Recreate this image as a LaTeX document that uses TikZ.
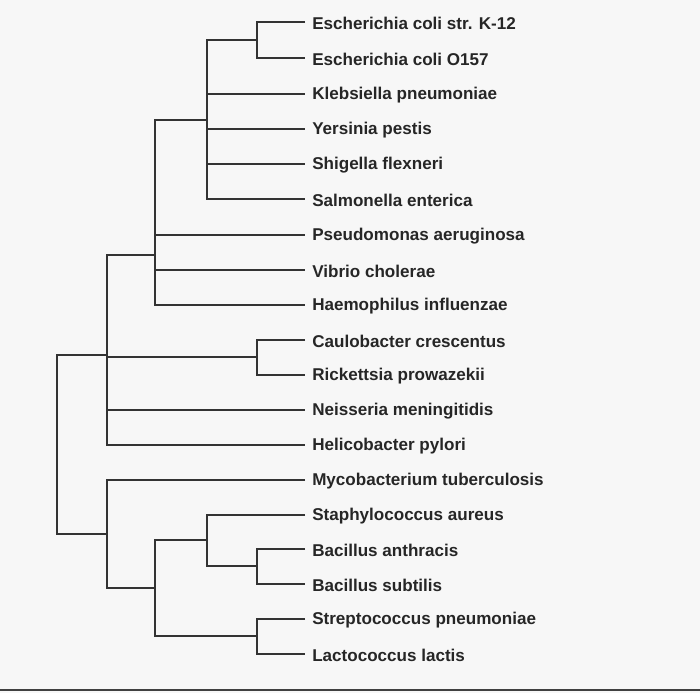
\documentclass[tikz,border=0pt]{standalone}
\usepackage{fontspec}
\setmainfont{Liberation Sans}
\begin{document}
\begin{tikzpicture}[x=0.75pt,y=-0.75pt,
  br/.style={draw=black!80,line width=1.1pt},
  lf/.style={anchor=west,inner sep=0pt,font=\bfseries\fontsize{12.8}{14}\selectfont,text=black!85}]
\fill[black!3] (0,0) rectangle (700,693);
\useasboundingbox (0,0) rectangle (700,693);
\draw[black!75,line width=1.5pt] (0,690) -- (700,690);
\foreach \n/\y/\t in {1/22/Escherichia coli str. K-12,2/58/Escherichia coli O157,3/94/Klebsiella pneumoniae,4/129/Yersinia pestis,5/164/Shigella flexneri,6/199/Salmonella enterica,7/235/Pseudomonas aeruginosa,8/270/Vibrio cholerae,9/305/Haemophilus influenzae,10/340/Caulobacter crescentus,11/375/Rickettsia prowazekii,12/410/Neisseria meningitidis,13/445/Helicobacter pylori,14/480/Mycobacterium tuberculosis,15/515/Staphylococcus aureus,16/549/Bacillus anthracis,17/584/Bacillus subtilis,18/619/Streptococcus pneumoniae,19/654/Lactococcus lactis}
  {\node[lf] (L\n) at (312,\y+1) {\t}; \coordinate (E\n) at (305,\y);}
% E. coli pair
\draw[br] (E1) -- (257,22) -- (257,58) -- (E2);
\draw[br] (257,40) -- (207,40) -- (207,199) -- (E6);
\draw[br] (207,94) -- (E3);
\draw[br] (207,129) -- (E4);
\draw[br] (207,164) -- (E5);
\draw[br] (207,120) -- (155,120) -- (155,305) -- (E9);
\draw[br] (155,235) -- (E7);
\draw[br] (155,270) -- (E8);
\draw[br] (E10) -- (257,340) -- (257,375) -- (E11);
\draw[br] (155,255) -- (107,255) -- (107,445) -- (E13);
\draw[br] (257,357) -- (107,357);
\draw[br] (107,410) -- (E12);
\draw[br] (107,355) -- (57,355) -- (57,534) -- (107,534);
\draw[br] (E16) -- (257,549) -- (257,584) -- (E17);
\draw[br] (E15) -- (207,515) -- (207,566) -- (257,566);
\draw[br] (E18) -- (257,619) -- (257,654) -- (E19);
\draw[br] (207,540) -- (155,540) -- (155,636) -- (257,636);
\draw[br] (E14) -- (107,480) -- (107,588) -- (155,588);
\end{tikzpicture}
\end{document}
